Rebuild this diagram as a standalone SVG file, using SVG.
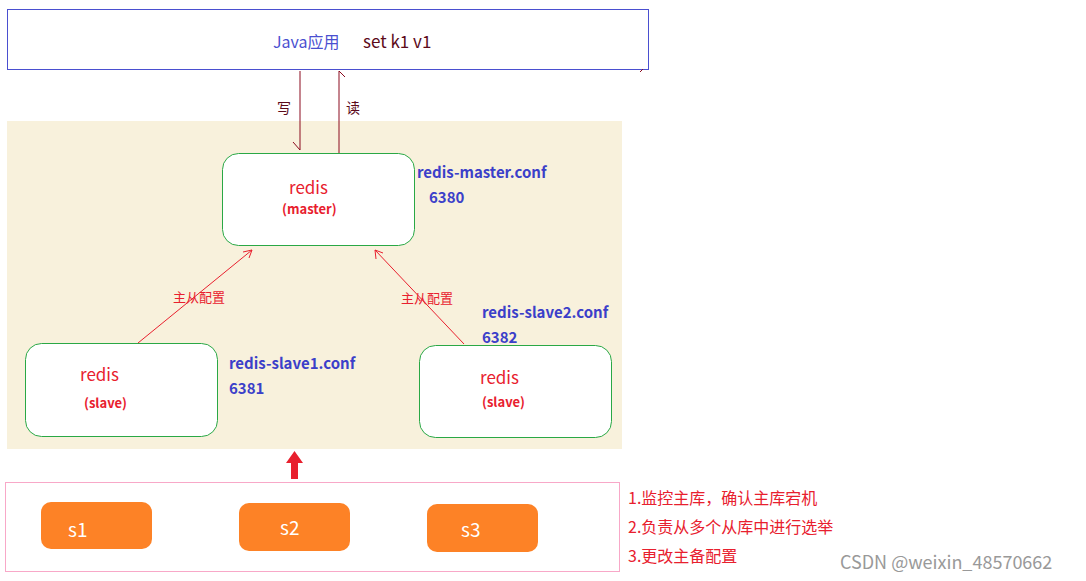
<svg xmlns="http://www.w3.org/2000/svg" width="1086" height="581" viewBox="0 0 1086 581">
<style>
text{font-family:"Microsoft YaHei","Noto Sans CJK SC",sans-serif}
.conf{fill:#3b3fc9;font-weight:bold;font-size:15px}
.red{fill:#e8202e}
.node{fill:#fff;stroke:#2aa845;stroke-width:1}
.s{fill:#fd8226}
.st{fill:#fff;font-size:19px}
.cn{stroke:#8b0a1e;stroke-width:1;fill:none}
.rl{stroke:#e8202e;stroke-width:1;fill:none}
</style>
<rect width="1086" height="581" fill="#fff"/>
<rect x="7" y="121" width="615" height="328" fill="#f8f1dc"/>
<g id="java">
<rect x="7.5" y="9.5" width="641" height="60" fill="#fff" stroke="#4a4fd0"/>
<text x="273" y="48" font-size="16" fill="#4a4fd0">Java应用</text>
<text x="363" y="48" font-size="17" fill="#5c0a1a">set k1 v1</text>
</g>
<g id="connectors">
<path class="cn" d="M300 71V150M293 142l7 8"/>
<path class="cn" d="M339 153V71M339 71l6 6"/>
<path class="cn" d="M640 72l3-3"/>
<text x="277" y="113" font-size="14" fill="#5c0a1a">写</text>
<text x="346" y="113" font-size="14" fill="#5c0a1a">读</text>
<path class="rl" d="M138 343L252 250M243 252l9-2-3 8"/>
<path class="rl" d="M464 344L375 250M376 259l-1-9 8 3"/>
<text x="173" y="302" font-size="13" class="red">主从配置</text>
<text x="401" y="303" font-size="13" class="red">主从配置</text>
<path d="M291 479h7v-16h5l-8.5-12-8.5 12h5z" fill="#e8202e"/>
</g>
<g id="master">
<rect class="node" x="222.5" y="153.5" width="192" height="92" rx="16"/>
<text x="289" y="194" font-size="17" class="red">redis</text>
<text x="282" y="214" font-size="13" font-weight="bold" class="red">(master)</text>
<text x="417" y="178" class="conf">redis-master.conf</text>
<text x="429" y="203" class="conf">6380</text>
</g>
<g id="slave1">
<rect class="node" x="25.5" y="343.5" width="192" height="93" rx="16"/>
<text x="80" y="381" font-size="17" class="red">redis</text>
<text x="84" y="408" font-size="13" font-weight="bold" class="red">(slave)</text>
<text x="229" y="369" class="conf">redis-slave1.conf</text>
<text x="229" y="394" class="conf">6381</text>
</g>
<g id="slave2">
<rect class="node" x="419.5" y="345.5" width="192" height="92" rx="16"/>
<text x="480" y="384" font-size="17" class="red">redis</text>
<text x="482" y="407" font-size="13" font-weight="bold" class="red">(slave)</text>
<text x="482" y="318" class="conf">redis-slave2.conf</text>
<text x="482" y="343" class="conf">6382</text>
</g>
<g id="sentinels">
<rect x="5.5" y="482.5" width="614" height="89" fill="none" stroke="#f8a8c8"/>
<rect class="s" x="41" y="502" width="111" height="47" rx="10"/>
<text x="68" y="537" class="st">s1</text>
<rect class="s" x="239" y="503" width="111" height="48" rx="10"/>
<text x="280" y="535" class="st">s2</text>
<rect class="s" x="427" y="504" width="111" height="48" rx="10"/>
<text x="461" y="537" class="st">s3</text>
</g>
<g id="notes" font-size="16" class="red">
<text x="628" y="504">1.监控主库，确认主库宕机</text>
<text x="628" y="533">2.负责从多个从库中进行选举</text>
<text x="628" y="562">3.更改主备配置</text>
</g>
<text x="840" y="569" font-size="18" fill="#999">CSDN @weixin_48570662</text>
</svg>
